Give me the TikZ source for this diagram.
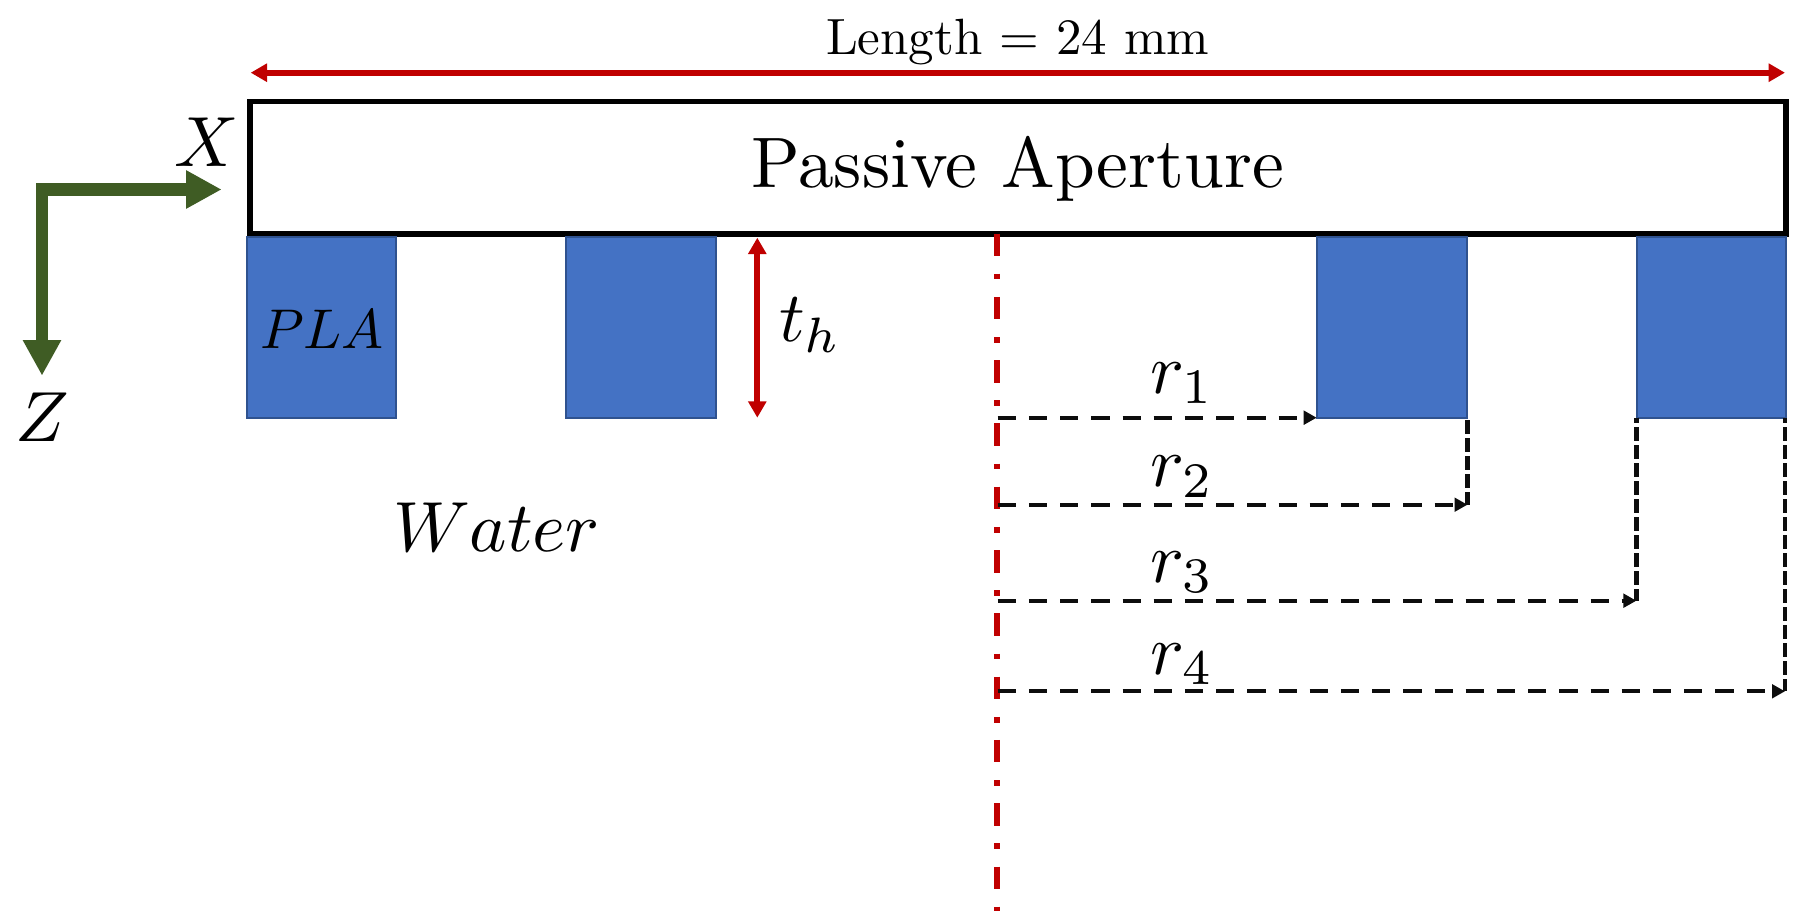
\documentclass[tikz,border=0pt]{standalone}
\usetikzlibrary{arrows.meta}
\definecolor{plablue}{HTML}{4472C4}
\definecolor{plaedge}{HTML}{2F528F}
\definecolor{redline}{HTML}{C00000}
\definecolor{axgreen}{HTML}{3F5C24}
\definecolor{dashblack}{HTML}{0D0D0D}
\tikzset{
  blockbox/.style={draw=plaedge,fill=plablue,line width=1.7pt,minimum height=181.6pt,inner sep=0pt,outer sep=0pt,anchor=north west},
  txt/.style={inner sep=0pt,outer sep=0pt,transform shape,anchor=base west,scale=#1},
  reddim/.style={draw=redline,line width=5.8pt,{Triangle[length=16.3pt,width=17.5pt]}-{Triangle[length=16.3pt,width=17.5pt]}},
  rdash/.style={draw=dashblack,line width=4.3pt,dash pattern=on 18.3pt off 12.9pt,-{Triangle[length=13pt,width=13.5pt]}},
  vdash/.style={draw=dashblack,line width=4.8pt,dash pattern=on 14pt off 4pt},
  axisline/.style={draw=redline,line width=5.7pt,dash pattern=on 22.5pt off 17.7pt on 5.7pt off 17.4pt},
  greenaxes/.style={draw=axgreen,line width=12.2pt,line join=miter,{Triangle[length=35.5pt,width=35.8pt]}-{Triangle[length=35.5pt,width=35.8pt]}}
}
\begin{document}
\begin{tikzpicture}[x=1pt,y=-1pt]
\useasboundingbox[fill=white] (0,0) rectangle (1802,923);
% aperture
\node[draw=black,line width=5.8pt,minimum width=1536pt,minimum height=132.5pt,inner sep=0pt,outer sep=0pt,anchor=north west] (box) at (250,101.5) {};
\node[txt=7.15] (pa) at (751.5,187) {Passive Aperture};
% blocks
\node[blockbox,minimum width=149.3pt] (b1) at (246.7,236.7) {};
\node[blockbox,minimum width=150.3pt] (b2) at (565.7,236.7) {};
\node[blockbox,minimum width=150.3pt] (b3) at (1316.7,236.7) {};
\node[blockbox,minimum width=149.6pt] (b4) at (1636.7,236.7) {};
% length
\coordinate (la) at (250.7,72.7);
\coordinate (lb) at (1785,72.7);
\draw[reddim] (la) -- (lb);
\node[txt=5.1] (len) at (826,55) {Length = 24 mm};
% axes
\coordinate (zt) at (42,375.7);
\coordinate (o) at (42,189.5);
\coordinate (xt) at (221.7,189.5);
\draw[greenaxes] (zt) -- (o) -- (xt);
\node[txt=7.1] (xl) at (174.5,166.7) {$X$};
\node[txt=7.1] (zl) at (15.5,441.7) {$Z$};
\node[txt=5.6] (pla) at (260,348) {$PLA$};
\node[txt=7.1] (wat) at (393,551) {$Water$};
% thickness
\coordinate (ta) at (757.3,237.7);
\coordinate (tb) at (757.3,417.7);
\draw[reddim] (ta) -- (tb);
\node[txt=7.1] (th) at (779,341.7) {$t_h$};
% axis
\coordinate (axt) at (997,233.5);
\coordinate (axb) at (997,911);
\draw[axisline] (axt) -- (axb);
% radii
\coordinate (c1) at (997.7,417.7);
\coordinate (c2) at (997.7,504.7);
\coordinate (c3) at (997.7,600.7);
\coordinate (c4) at (997.7,691.3);
\coordinate (e2) at (1467.5,504.7);
\coordinate (e3) at (1636.4,600.7);
\coordinate (e4) at (1785,691.3);
\coordinate (s2) at (1467.5,420);
\coordinate (s3) at (1636.4,409);
\coordinate (s4) at (1785,409);
\draw[vdash] (s2) -- (e2);
\draw[vdash,dash phase=9pt] (s3 |- b4.south) -- (e3);
\draw[vdash,dash phase=9pt] (s4 |- b4.south) -- (e4);
\draw[rdash] (c1) -- (c1 -| b3.west);
\draw[rdash] (c2) -- (e2);
\draw[rdash] (c3) -- (e3);
\draw[rdash] (c4) -- (e4);
\node[txt=7.1] (r1) at (1150.6,393) {$r_1$};
\node[txt=7.1] (r2) at (1150.6,486.7) {$r_2$};
\node[txt=7.1] (r3) at (1150.6,582) {$r_3$};
\node[txt=7.1] (r4) at (1150.6,674) {$r_4$};
\end{tikzpicture}
\end{document}
